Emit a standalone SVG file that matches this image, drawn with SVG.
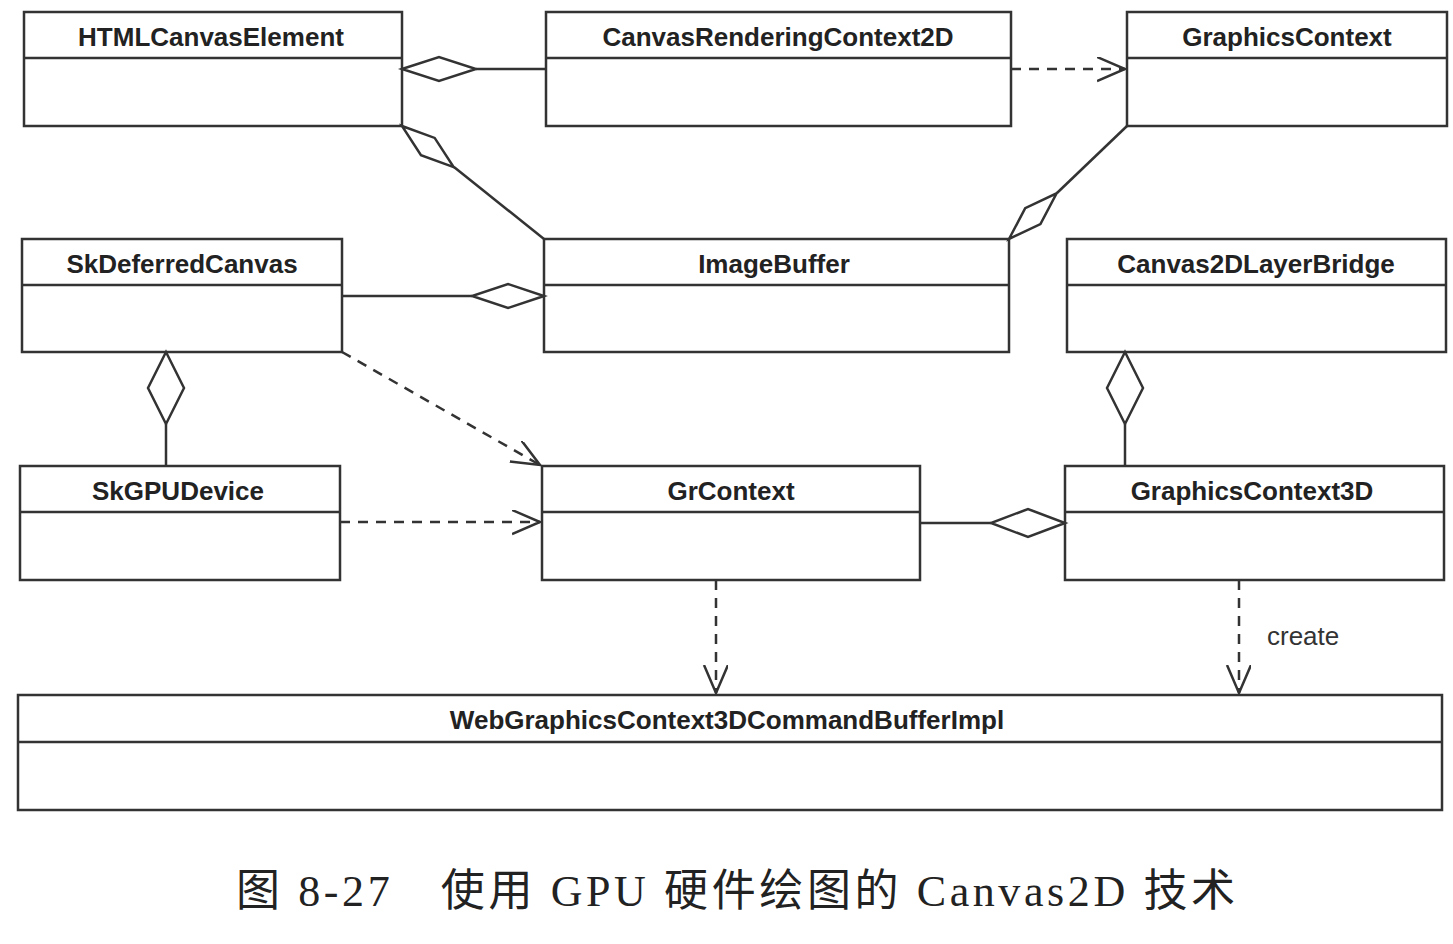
<svg xmlns="http://www.w3.org/2000/svg" width="1453" height="944" viewBox="0 0 1453 944">
<defs>
<style>
.b{fill:#fff;stroke:#333;stroke-width:2.5}
.t{font-family:"Liberation Sans",Arial,sans-serif;font-weight:bold;font-size:26px;fill:#222;text-anchor:middle}
.l{stroke:#333;stroke-width:2.5;fill:none}
.d{stroke:#333;stroke-width:2.5;fill:none;stroke-dasharray:10,8}
.dm{fill:#fff;stroke:#333;stroke-width:2.5}
</style>
<marker id="a" markerWidth="30" markerHeight="30" refX="28" refY="12" orient="auto" markerUnits="userSpaceOnUse"><path d="M0,0 L28,12 L0,24" fill="none" stroke="#333" stroke-width="2.5"/></marker>
</defs>
<rect width="1453" height="944" fill="#fff"/>
<g id="HTMLCanvasElement"><rect class="b" x="24" y="12" width="378" height="114"/><line class="l" x1="24" y1="58" x2="402" y2="58"/><text class="t" x="211" y="46">HTMLCanvasElement</text></g>
<g id="CanvasRenderingContext2D"><rect class="b" x="546" y="12" width="465" height="114"/><line class="l" x1="546" y1="58" x2="1011" y2="58"/><text class="t" x="778" y="46">CanvasRenderingContext2D</text></g>
<g id="GraphicsContext"><rect class="b" x="1127" y="12" width="320" height="114"/><line class="l" x1="1127" y1="58" x2="1447" y2="58"/><text class="t" x="1287" y="46">GraphicsContext</text></g>
<g id="SkDeferredCanvas"><rect class="b" x="22" y="239" width="320" height="113"/><line class="l" x1="22" y1="285" x2="342" y2="285"/><text class="t" x="182" y="273">SkDeferredCanvas</text></g>
<g id="ImageBuffer"><rect class="b" x="544" y="239" width="465" height="113"/><line class="l" x1="544" y1="285" x2="1009" y2="285"/><text class="t" x="774" y="273">ImageBuffer</text></g>
<g id="Canvas2DLayerBridge"><rect class="b" x="1067" y="239" width="379" height="113"/><line class="l" x1="1067" y1="285" x2="1446" y2="285"/><text class="t" x="1256" y="273">Canvas2DLayerBridge</text></g>
<g id="SkGPUDevice"><rect class="b" x="20" y="466" width="320" height="114"/><line class="l" x1="20" y1="512" x2="340" y2="512"/><text class="t" x="178" y="500">SkGPUDevice</text></g>
<g id="GrContext"><rect class="b" x="542" y="466" width="378" height="114"/><line class="l" x1="542" y1="512" x2="920" y2="512"/><text class="t" x="731" y="500">GrContext</text></g>
<g id="GraphicsContext3D"><rect class="b" x="1065" y="466" width="379" height="114"/><line class="l" x1="1065" y1="512" x2="1444" y2="512"/><text class="t" x="1252" y="500">GraphicsContext3D</text></g>
<g id="WebGraphicsContext3DCommandBufferImpl"><rect class="b" x="18" y="695" width="1424" height="115"/><line class="l" x1="18" y1="742" x2="1442" y2="742"/><text class="t" x="727" y="729">WebGraphicsContext3DCommandBufferImpl</text></g>
<g id="connectors">
<line class="l" x1="476" y1="69" x2="546" y2="69"/>
<path class="dm" d="M0,0 L37,-12 L74,0 L37,12Z" transform="translate(402,69)"/>
<line class="d" x1="1011" y1="69" x2="1125" y2="69" marker-end="url(#a)"/>
<line class="l" x1="454" y1="167" x2="544" y2="239"/>
<path class="dm" d="M0,0 L33,-11 L66,0 L33,11Z" transform="translate(402,126) rotate(38.5)"/>
<line class="l" x1="1057" y1="193" x2="1127" y2="126"/>
<path class="dm" d="M0,0 L33,-11 L66,0 L33,11Z" transform="translate(1009,239) rotate(-43.8)"/>
<line class="l" x1="342" y1="296" x2="472" y2="296"/>
<path class="dm" d="M0,0 L36,-12 L72,0 L36,12Z" transform="translate(544,296) rotate(180)"/>
<line class="d" x1="342" y1="352" x2="540" y2="465" marker-end="url(#a)"/>
<line class="l" x1="166" y1="466" x2="166" y2="424"/>
<path class="dm" d="M0,0 L36,-18 L72,0 L36,18Z" transform="translate(166,352) rotate(90)"/>
<line class="d" x1="340" y1="522" x2="540" y2="522" marker-end="url(#a)"/>
<line class="l" x1="1125" y1="466" x2="1125" y2="424"/>
<path class="dm" d="M0,0 L36,-18 L72,0 L36,18Z" transform="translate(1125,352) rotate(90)"/>
<line class="l" x1="920" y1="523" x2="991" y2="523"/>
<path class="dm" d="M0,0 L37,-14 L74,0 L37,14Z" transform="translate(1065,523) rotate(180)"/>
<line class="d" x1="716" y1="580" x2="716" y2="693" marker-end="url(#a)"/>
<line class="d" x1="1239" y1="580" x2="1239" y2="693" marker-end="url(#a)"/>
<text x="1267" y="645" style="font-family:'Liberation Sans',Arial,sans-serif;font-size:26px;fill:#333">create</text>
</g>
<text x="236" y="906" textLength="999" lengthAdjust="spacing" style="font-family:'Liberation Serif','Noto Sans CJK SC',serif;font-size:44px;fill:#222">图 8-27　使用 GPU 硬件绘图的 Canvas2D 技术</text>
</svg>
